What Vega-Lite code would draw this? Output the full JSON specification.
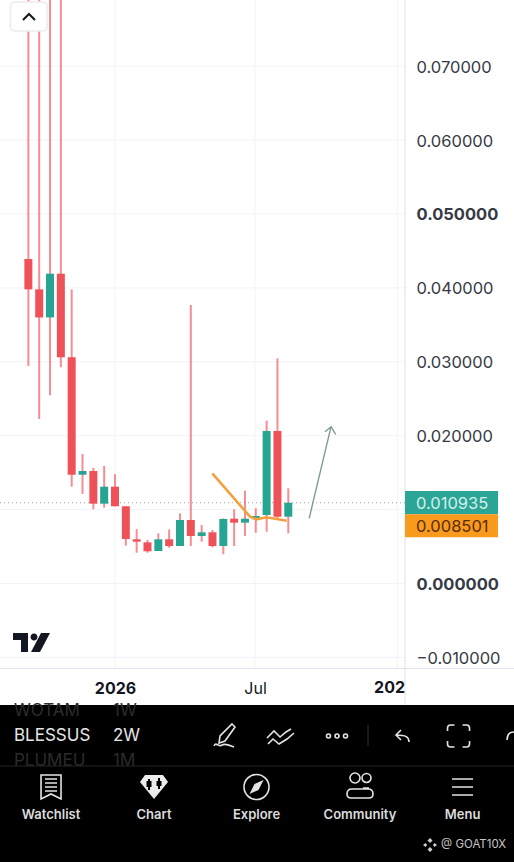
{
"$schema":"https://vega.github.io/schema/vega-lite/v6.json",
"width":514,"height":862,"padding":0,"autosize":{"type":"none"},"background":"#ffffff",
"config":{"view":{"stroke":null},"font":"Inter"},
"datasets":{
"candles":[
{"d":"2025-09-11T00:00:00Z","open":0.04391,"close":0.0398,"high":0.09,"low":0.02943,"dir":"down","wick":"down"},
{"d":"2025-09-25T00:00:00Z","open":0.0398,"close":0.036,"high":0.09,"low":0.02226,"dir":"down","wick":"down"},
{"d":"2025-10-09T00:00:00Z","open":0.036,"close":0.04192,"high":0.09,"low":0.02547,"dir":"up","wick":"down"},
{"d":"2025-10-23T00:00:00Z","open":0.04192,"close":0.03061,"high":0.09,"low":0.02926,"dir":"down","wick":"down"},
{"d":"2025-11-06T00:00:00Z","open":0.03061,"close":0.01472,"high":0.0398,"low":0.0131,"dir":"down","wick":"down"},
{"d":"2025-11-20T00:00:00Z","open":0.01472,"close":0.01522,"high":0.01752,"low":0.01211,"dir":"up","wick":"down"},
{"d":"2025-12-04T00:00:00Z","open":0.01522,"close":0.0108,"high":0.01567,"low":0.01004,"dir":"down","wick":"down"},
{"d":"2025-12-18T00:00:00Z","open":0.0108,"close":0.0131,"high":0.0159,"low":0.01026,"dir":"up","wick":"down"},
{"d":"2026-01-01T00:00:00Z","open":0.0131,"close":0.01045,"high":0.01478,"low":0.01045,"dir":"down","wick":"down"},
{"d":"2026-01-15T00:00:00Z","open":0.01045,"close":0.00602,"high":0.01045,"low":0.00512,"dir":"down","wick":"down"},
{"d":"2026-01-29T00:00:00Z","open":0.00598,"close":0.00566,"high":0.00737,"low":0.00417,"dir":"down","wick":"down"},
{"d":"2026-02-12T00:00:00Z","open":0.00557,"close":0.00436,"high":0.00589,"low":0.00417,"dir":"down","wick":"down"},
{"d":"2026-02-26T00:00:00Z","open":0.0044,"close":0.00598,"high":0.00679,"low":0.0044,"dir":"up","wick":"down"},
{"d":"2026-03-12T00:00:00Z","open":0.00598,"close":0.00507,"high":0.00733,"low":0.00484,"dir":"down","wick":"down"},
{"d":"2026-03-26T00:00:00Z","open":0.00507,"close":0.00859,"high":0.0095,"low":0.00507,"dir":"up","wick":"down"},
{"d":"2026-04-09T00:00:00Z","open":0.00859,"close":0.00643,"high":0.03769,"low":0.00507,"dir":"down","wick":"down"},
{"d":"2026-04-23T00:00:00Z","open":0.00643,"close":0.00693,"high":0.00792,"low":0.00566,"dir":"up","wick":"down"},
{"d":"2026-05-07T00:00:00Z","open":0.00693,"close":0.00507,"high":0.00724,"low":0.0049,"dir":"down","wick":"down"},
{"d":"2026-05-21T00:00:00Z","open":0.00507,"close":0.00873,"high":0.00882,"low":0.00395,"dir":"up","wick":"down"},
{"d":"2026-06-04T00:00:00Z","open":0.00877,"close":0.00823,"high":0.01004,"low":0.00507,"dir":"down","wick":"down"},
{"d":"2026-06-18T00:00:00Z","open":0.00823,"close":0.00877,"high":0.01256,"low":0.00643,"dir":"up","wick":"down"},
{"d":"2026-07-02T00:00:00Z","open":0.00869,"close":0.00913,"high":0.01018,"low":0.00687,"dir":"up","wick":"down"},
{"d":"2026-07-16T00:00:00Z","open":0.00927,"close":0.02064,"high":0.02203,"low":0.00701,"dir":"up","wick":"down"},
{"d":"2026-07-30T00:00:00Z","open":0.02064,"close":0.00904,"high":0.03047,"low":0.00859,"dir":"down","wick":"down"},
{"d":"2026-08-13T00:00:00Z","open":0.00904,"close":0.01093,"high":0.01288,"low":0.00679,"dir":"up","wick":"down"}
],
"drawn":[
{"series":"trend","d":"2026-05-06T19:00:00Z","p":0.01491},
{"series":"trend","d":"2026-06-24T12:00:00Z","p":0.00904},
{"series":"trend","d":"2026-07-03T00:00:00Z","p":0.00869},
{"series":"trend","d":"2026-07-16T00:00:00Z","p":0.00896},
{"series":"trend","d":"2026-08-11T00:00:00Z","p":0.0085}
],
"arrow":[
{"series":"shaft","d":"2026-09-09T00:00:00Z","p":0.00882},
{"series":"shaft","d":"2026-10-07T07:00:00Z","p":0.02122},
{"series":"head","d":"2026-09-29T12:00:00Z","p":0.02054},
{"series":"head","d":"2026-10-07T07:00:00Z","p":0.02122},
{"series":"head","d":"2026-10-13T07:00:00Z","p":0.02019}
],
"hgrid":[
{"d":"2025-08-05T08:00:00Z","d2":"2027-01-10T22:00:00Z","p":-0.01},
{"d":"2025-08-05T08:00:00Z","d2":"2027-01-10T22:00:00Z","p":0},
{"d":"2025-08-05T08:00:00Z","d2":"2027-01-10T22:00:00Z","p":0.01},
{"d":"2025-08-05T08:00:00Z","d2":"2027-01-10T22:00:00Z","p":0.02},
{"d":"2025-08-05T08:00:00Z","d2":"2027-01-10T22:00:00Z","p":0.03},
{"d":"2025-08-05T08:00:00Z","d2":"2027-01-10T22:00:00Z","p":0.04},
{"d":"2025-08-05T08:00:00Z","d2":"2027-01-10T22:00:00Z","p":0.05},
{"d":"2025-08-05T08:00:00Z","d2":"2027-01-10T22:00:00Z","p":0.06},
{"d":"2025-08-05T08:00:00Z","d2":"2027-01-10T22:00:00Z","p":0.07}
],
"vgrid":[
{"d":"2026-01-01T00:00:00Z","p":0.078958,"p2":-0.011434},
{"d":"2026-07-01T00:00:00Z","p":0.078958,"p2":-0.011434},
{"d":"2027-01-01T00:00:00Z","p":0.078958,"p2":-0.011434}
],
"icons":[
{"icon":"pen","d":"2026-05-23T05:00:00Z","p":-0.020636},
{"icon":"zigzag","d":"2026-08-02T07:00:00Z","p":-0.020636},
{"icon":"dots","d":"2026-10-15T00:00:00Z","p":-0.020636},
{"icon":"undo","d":"2027-01-07T00:00:00Z","p":-0.020636},
{"icon":"frame","d":"2027-03-21T02:00:00Z","p":-0.020636},
{"icon":"redo","d":"2027-05-26T16:00:00Z","p":-0.020636},
{"icon":"book","d":"2025-10-10T07:00:00Z","p":-0.027537},
{"icon":"compass","d":"2026-07-02T22:00:00Z","p":-0.027537},
{"icon":"people","d":"2026-11-13T17:00:00Z","p":-0.027537},
{"icon":"menu","d":"2027-03-26T07:00:00Z","p":-0.027537}
],
"solids":[
{"icon":"gem","d":"2026-02-20T10:00:00Z","p":-0.027537},
{"icon":"holes","d":"2026-02-20T10:00:00Z","p":-0.027537},
{"icon":"needle","d":"2026-07-02T22:00:00Z","p":-0.027537},
{"icon":"logo","d":"2025-09-14T10:00:00Z","p":-0.007916},
{"icon":"mark","d":"2027-02-12T05:00:00Z","p":-0.035386}
]
},
"encoding":{
"x":{"field":"d","type":"temporal","title":null,
 "scale":{"type":"utc","nice":false,"padding":0,"domain":[{"year":2025,"month":8,"date":5,"hours":8,"utc":true},{"year":2027,"month":5,"date":31,"hours":19,"utc":true}]},
 "axis":{"orient":"bottom","offset":-194,"values":[{"year":2026,"month":1,"date":1,"utc":true},{"year":2026,"month":7,"date":1,"utc":true}],
  "labelExpr":"utcmonth(datum.value)==6?'Jul':'2026'",
  "labelFontWeight":{"expr":"utcmonth(datum.value)==0?'bold':'normal'"},
  "labelFont":"Inter","labelFontSize":16,"labelColor":"#131722","labelPadding":12,"labelBaseline":"top","ticks":false,"domainColor":"#e0e3eb","grid":false,"zindex":1,"labelFlush":false,"labelOverlap":false}},
"y":{"field":"p","type":"quantitative","title":null,
 "scale":{"nice":false,"zero":false,"domain":[-0.037686,0.078958]},
 "axis":{"orient":"left","offset":-405,"values":[-0.01,0,0.02,0.03,0.04,0.05,0.06,0.07],
  "labelExpr":"format(datum.value,'.6f')",
  "labelFontWeight":{"expr":"abs(datum.value)<0.001||abs(datum.value-0.05)<0.001?'bold':'normal'"},
  "labelFont":"Inter","labelFontSize":16.5,"labelColor":"#363a45","labelAlign":"left","labelPadding":-11,"labelOffset":1,"labelBaseline":"middle","ticks":false,"domain":false,"grid":false,"zindex":1,"labelOverlap":false}}
},
"layer":[
{"data":{"name":"hgrid"},"transform":[{"calculate":"toDate(datum.d2)","as":"d2"}],
 "mark":{"type":"rule","color":"#f0f3fa","strokeWidth":1},"encoding":{"x2":{"field":"d2"}}},
{"data":{"name":"vgrid"},
 "mark":{"type":"rule","color":"#f0f3fa","strokeWidth":1},"encoding":{"y2":{"field":"p2"}}},
{"data":{"values":[{"d":"2027-01-10T22:00:00Z","p":0.078958,"p2":-0.016441}]},
 "mark":{"type":"rule","color":"#e0e3eb","strokeWidth":1},"encoding":{"y2":{"field":"p2"}}},
{"data":{"values":[{"d":"2025-08-05T08:00:00Z","d2":"2027-01-10T22:00:00Z","p":0.010935}],"format":{"parse":{"d2":"date"}}},
 "mark":{"type":"rule","color":"#9aa5a8","strokeWidth":1,"strokeDash":[1,3]},"encoding":{"x2":{"field":"d2"}}},
{"data":{"name":"candles"},
 "mark":{"type":"rule","strokeWidth":2,"opacity":0.65},
 "encoding":{"y":{"field":"low","type":"quantitative","title":null},"y2":{"field":"high"},
  "color":{"field":"wick","type":"nominal","legend":null,"scale":{"domain":["up","down"],"range":["#27a593","#ef5158"]}}}},
{"data":{"name":"candles"},
 "mark":{"type":"bar","size":8,"cornerRadius":0},
 "encoding":{"y":{"field":"open","type":"quantitative","title":null},"y2":{"field":"close"},
  "color":{"field":"dir","type":"nominal","legend":null,"scale":{"domain":["up","down"],"range":["#27a593","#ef5158"]}}}},
{"data":{"name":"drawn"},
 "mark":{"type":"line","color":"#f3a13e","strokeWidth":2.6,"interpolate":"linear"},
 "encoding":{"detail":{"field":"series","type":"nominal"}}},
{"data":{"name":"arrow"},
 "mark":{"type":"line","color":"#7f9c97","strokeWidth":1.4,"interpolate":"linear"},
 "encoding":{"detail":{"field":"series","type":"nominal"}}},
{"data":{"values":[{"d":"2025-08-18T22:00:00Z","d2":"2025-10-05T02:00:00Z","p":0.07869,"p2":0.07477}],"format":{"parse":{"d2":"date"}}},
 "mark":{"type":"rect","fill":"#ffffff","stroke":"#ebebeb","strokeWidth":1.5,"cornerRadius":4},"encoding":{"x2":{"field":"d2"},"y2":{"field":"p2"}}},
{"data":{"values":[{"d":"2027-01-10T22:00:00Z","d2":"2027-05-11T04:00:00Z","p":0.012517,"p2":0.009364}],"format":{"parse":{"d2":"date"}}},
 "mark":{"type":"rect","fill":"#2ba596"},"encoding":{"x2":{"field":"d2"},"y2":{"field":"p2"}}},
{"data":{"values":[{"d":"2027-01-10T22:00:00Z","d2":"2027-05-11T04:00:00Z","p":0.009364,"p2":0.006252}],"format":{"parse":{"d2":"date"}}},
 "mark":{"type":"rect","fill":"#f89a1c"},"encoding":{"x2":{"field":"d2"},"y2":{"field":"p2"}}},
{"data":{"values":[{"d":"2027-01-25T03:00:00Z","p":0.010804,"t":"0.010935"}]},
 "mark":{"type":"text","align":"left","baseline":"middle","font":"Inter","fontSize":16.5,"color":"#d5f0ea"},"encoding":{"text":{"field":"t"}}},
{"data":{"values":[{"d":"2027-01-25T03:00:00Z","p":0.00765,"t":"0.008501"}]},
 "mark":{"type":"text","align":"left","baseline":"middle","font":"Inter","fontSize":16.5,"color":"#5a2c08"},"encoding":{"text":{"field":"t"}}},
{"data":{"values":[{"d":"2027-01-10T22:00:00Z","p":-0.014115,"t":"202"}]},
 "mark":{"type":"text","align":"right","baseline":"middle","font":"Inter","fontSize":16,"fontWeight":"bold","color":"#131722"},"encoding":{"text":{"field":"t"}}},
{"data":{"values":[{"d":"2025-08-05T08:00:00Z","d2":"2027-05-31T19:00:00Z","p":-0.016441,"p2":-0.037686}],"format":{"parse":{"d2":"date"}}},
 "mark":{"type":"rect","fill":"#000000"},"encoding":{"x2":{"field":"d2"},"y2":{"field":"p2"}}},
{"data":{"values":[{"d":"2025-08-23T10:00:00Z","p":-0.017253,"t":"WOTAM"},{"d":"2025-12-29T10:00:00Z","p":-0.017253,"t":"1W"},{"d":"2025-08-23T10:00:00Z","p":-0.024019,"t":"PLUMEU"},{"d":"2025-12-29T10:00:00Z","p":-0.024019,"t":"1M"}]},
 "mark":{"type":"text","align":"left","baseline":"middle","font":"Inter","fontSize":17,"color":"#2b2b2b"},"encoding":{"text":{"field":"t"}}},
{"data":{"values":[{"d":"2025-08-23T10:00:00Z","p":-0.020636,"t":"BLESSUS"},{"d":"2025-12-29T10:00:00Z","p":-0.020636,"t":"2W"}]},
 "mark":{"type":"text","align":"left","baseline":"middle","font":"Inter","fontSize":17,"color":"#e6e6e6"},"encoding":{"text":{"field":"t"}}},
{"data":{"values":[{"d":"2025-12-03T14:00:00Z","d2":"2025-12-27T00:00:00Z","p":-0.016441,"p2":-0.024695}],"format":{"parse":{"d2":"date"}}},
 "mark":{"type":"rect","fill":"#000000"},"encoding":{"x2":{"field":"d2"},"y2":{"field":"p2"}}},
{"data":{"values":[{"d":"2025-08-05T08:00:00Z","d2":"2027-05-31T19:00:00Z","p":-0.024695,"p2":-0.037686}],"format":{"parse":{"d2":"date"}}},
 "mark":{"type":"rect","fill":"#000000"},"encoding":{"x2":{"field":"d2"},"y2":{"field":"p2"}}},
{"data":{"values":[{"d":"2025-08-05T08:00:00Z","d2":"2027-05-31T19:00:00Z","p":-0.024695}],"format":{"parse":{"d2":"date"}}},
 "mark":{"type":"rule","color":"#262626","strokeWidth":1},"encoding":{"x2":{"field":"d2"}}},
{"data":{"values":[{"d":"2026-11-24T02:00:00Z","p":-0.01915,"p2":-0.02199}]},
 "mark":{"type":"rule","color":"#333333","strokeWidth":1},"encoding":{"y2":{"field":"p2"}}},
{"data":{"values":[{"d":"2025-10-10T07:00:00Z","p":-0.03126,"t":"Watchlist"},{"d":"2026-02-20T10:00:00Z","p":-0.03126,"t":"Chart"},{"d":"2026-07-02T22:00:00Z","p":-0.03126,"t":"Explore"},{"d":"2026-11-13T17:00:00Z","p":-0.03126,"t":"Community"},{"d":"2027-03-26T07:00:00Z","p":-0.03126,"t":"Menu"}]},
 "mark":{"type":"text","align":"center","baseline":"middle","font":"Inter","fontSize":13,"fontWeight":600,"color":"#dcdcdc"},"encoding":{"text":{"field":"t"}}},
{"data":{"values":[{"d":"2027-02-26T12:00:00Z","p":-0.035386,"t":"@ GOAT10X"}]},
 "mark":{"type":"text","align":"left","baseline":"middle","font":"Inter","fontSize":11.5,"color":"#c4c4c4"},"encoding":{"text":{"field":"t"}}},
{"data":{"name":"icons"},
 "mark":{"type":"point","filled":false,"size":4,"opacity":1,"strokeWidth":1.6,"color":"#e4e4e4"},
 "encoding":{"shape":{"field":"icon","type":"nominal","legend":null,"scale":{
  "domain":["pen","zigzag","dots","undo","frame","redo","book","compass","people","menu","gem","holes","needle","logo","mark"],
  "range":[
  "M7,-12 L10,-9 L0,5 L-6,7 L-5,0 Z M-11,10 C-9,5 -6,12 -3,9 C0,7 4,9 9,11",
  "M-13,2 L-6,-5 L0,1 L6,-4 L11,-7 M-12,8 L-7,3 L-1,8 L7,3 L14,-3",
  "M-6.5,0 A2,2 0 1,1 -10.5,0 A2,2 0 1,1 -6.5,0 M2,0 A2,2 0 1,1 -2,0 A2,2 0 1,1 2,0 M10.5,0 A2,2 0 1,1 6.5,0 A2,2 0 1,1 10.5,0",
  "M7,6 C7,1 4,-1 -6,-1 M-1,-6 L-6,-1 L-1,4",
  "M-11,-5 L-11,-8 Q-11,-11 -8,-11 L-4,-11 M4,-11 L8,-11 Q11,-11 11,-8 L11,-5 M11,5 L11,8 Q11,11 8,11 L4,11 M-4,11 L-8,11 Q-11,11 -11,8 L-11,5",
  "M-3,4 C-3,-2 0,-4 4,-4",
  "M-10,-12 L10,-12 L10,12 L0,7 L-10,12 Z M-6,-8 L6,-8 M-6,-4 L6,-4 M-6,0 L6,0 M-6,4 L6,4",
  "M12.5,0 A12.5,12.5 0 1,1 -12.5,0 A12.5,12.5 0 1,1 12.5,0 Z",
  "M0,-9 A5,5 0 1,1 -10,-9 A5,5 0 1,1 0,-9 M11,-9 A4.5,4.5 0 1,1 2,-9 A4.5,4.5 0 1,1 11,-9 M-8,2 L8,2 Q13,2 13,7 Q13,11 9,11 L-9,11 Q-13,11 -13,7 Q-13,2 -8,2 M3,1 L9,1",
  "M-10.5,-8 L10.5,-8 M-10.5,0 L10.5,0 M-10.5,8 L10.5,8",
  "M-9,-12 L9,-12 L14,-5 L0,12 L-14,-5 Z",
  "M-6,-8 L-4,-8 L-4,-6 L-2.5,-6 L-2.5,0 L-4,0 L-4,3 L-6,3 L-6,0 L-7.5,0 L-7.5,-6 L-6,-6 Z M4,-9 L6,-9 L6,-6 L7.5,-6 L7.5,-1 L6,-1 L6,2 L4,2 L4,-1 L2.5,-1 L2.5,-6 L4,-6 Z",
  "M7,-7 L2,3 L-7,7 L-2,-3 Z",
  "M-18,-9 L-3,-9 L-3,10 L-10,10 L-10,-2 L-18,-2 Z M6.5,-5 A3.5,3.5 0 1,1 -0.5,-5 A3.5,3.5 0 1,1 6.5,-5 Z M10,-9 L19,-9 L9,10 L0,10 Z",
  "M0,-7 L2.5,-4.5 L0,-2 L-2.5,-4.5 Z M0,7 L2.5,4.5 L0,2 L-2.5,4.5 Z M-7,0 L-4.5,-2 L-3,0 L-4.5,2 Z M7,0 L4.5,-2 L3,0 L4.5,2 Z"
  ]}}}},
{"data":{"name":"solids"},
 "mark":{"type":"point","filled":true,"size":4,"opacity":1,"strokeWidth":0},
 "encoding":{
 "fill":{"field":"icon","type":"nominal","legend":null,"scale":{"domain":["gem","holes","needle","logo","mark"],"range":["#ececec","#000000","#e4e4e4","#131722","#d0d0d0"]}},
 "shape":{"field":"icon","type":"nominal","legend":null}}},
{"data":{"values":[{"d":"2025-09-11T19:00:00Z","p":0.07666}]},
 "mark":{"type":"point","filled":false,"size":4,"opacity":1,"strokeWidth":2,"color":"#131722","shape":"M-6,3 L0,-3 L6,3"}}
]
}
